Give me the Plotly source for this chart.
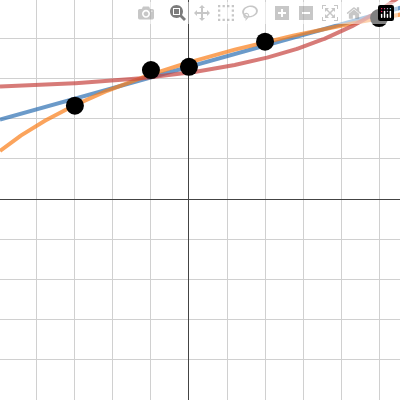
import numpy as np
import plotly.graph_objects as go

# data points
xs = np.array([-3.0, -1.0, 0.0, 2.0, 5.0])
ys = np.array([2.33, 3.22, 3.3, 3.93, 4.52])

xx = np.linspace(-4.97, 5.6, 400)

# linear fit
m, b = np.polyfit(xs, ys, 1)
lin = m * xx + b

# log fit y = a + k*ln(x+c), scan c
best = None
for c in np.linspace(5.0, 9.0, 200):
    k, a = np.polyfit(np.log(xs + c), ys, 1)
    err = np.sum((a + k * np.log(xs + c) - ys) ** 2)
    if best is None or err < best[0]:
        best = (err, c, k, a)
_, c, k, a = best
xl = xx[xx > -c]
logy = a + k * np.log(xl + c)

# exponential fit y = c0 + c1*exp(r x)
r = 0.3
A = np.vstack([np.ones_like(xs), np.exp(r * xs)]).T
coef, *_ = np.linalg.lstsq(A, ys, rcond=None)
expy = coef[0] + coef[1] * np.exp(r * xx)

fig = go.Figure()
fig.add_trace(go.Scatter(x=xx, y=lin, mode="lines", line=dict(color="#2d70b3", width=4), opacity=0.7))
fig.add_trace(go.Scatter(x=xl, y=logy, mode="lines", line=dict(color="#fa7e19", width=4), opacity=0.7))
fig.add_trace(go.Scatter(x=xx, y=expy, mode="lines", line=dict(color="#c74440", width=4), opacity=0.7))
fig.add_trace(go.Scatter(x=xs, y=ys, mode="markers", marker=dict(color="black", size=18)))

fig.update_layout(
    width=400, height=400, margin=dict(l=0, r=0, t=0, b=0),
    plot_bgcolor="white", paper_bgcolor="white", showlegend=False,
)
fig.update_xaxes(range=[-4.97, 5.55], dtick=1, showticklabels=False, gridcolor="#d0d0d0",
                 zeroline=True, zerolinecolor="#444", zerolinewidth=1)
fig.update_yaxes(range=[-5.02, 4.97], dtick=1, showticklabels=False, gridcolor="#d0d0d0",
                 zeroline=True, zerolinecolor="#444", zerolinewidth=1)
fig.write_html("out.html", post_script="document.body.style.margin='0';")
